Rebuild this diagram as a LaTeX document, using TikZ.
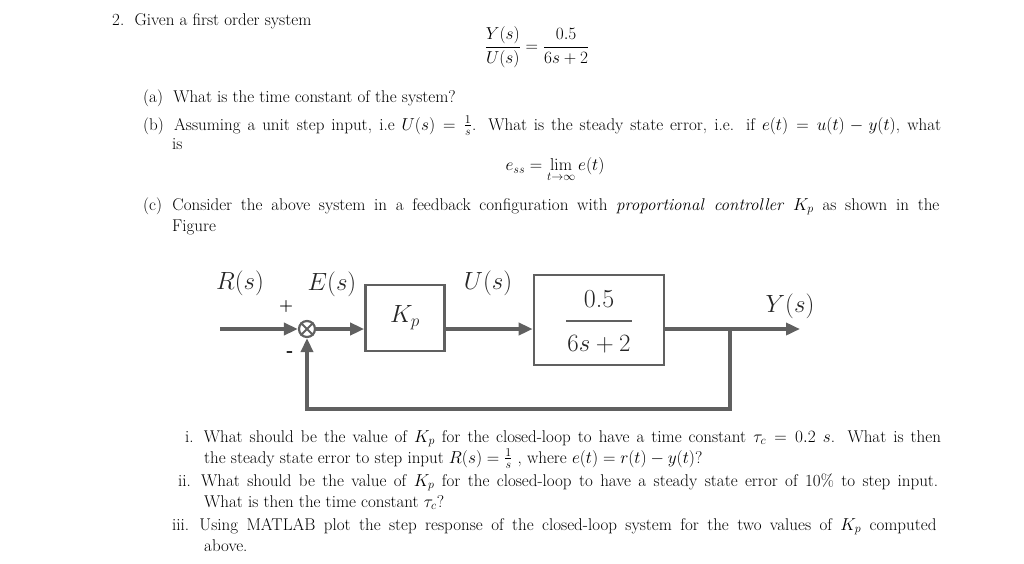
\documentclass[tikz,border=0pt]{standalone}
\usepackage{amsmath}
\usetikzlibrary{arrows.meta}
\tikzset{
  tx/.style={anchor=base west,inner sep=0pt,font=\fontsize{17}{20}\selectfont},
  blk/.style={draw=gray!75!black,line width=2.6pt,inner sep=0pt},
  wire/.style={draw=gray!75!black,line width=3.6pt},
  arr/.style={wire,-{Triangle[length=14pt,width=12pt]}},
  dl/.style={inner sep=0pt,font=\fontsize{26}{26}\selectfont,text=black!85}
}
\begin{document}
\begin{tikzpicture}[x=1pt,y=-1pt]
\useasboundingbox (0,0) rectangle (1024,563);
\node[tx] (n2) at (112,25) {2.\ \ Given a first order system};
\node[inner sep=0pt,font=\fontsize{17}{20}\selectfont] (eq1) at (537,47) {$\dfrac{Y(s)}{U(s)}=\dfrac{0.5}{6s+2}$};
\node[tx] (a) at (143,102) {(a)\ \ What is the time constant of the system?};
\node[tx] (b) at (143,130) {(b)\ \ \hbox to 767pt{Assuming a unit step input, i.e $U(s)=\frac{1}{s}$. What is the steady state error, i.e. if $e(t)=u(t)-y(t)$, what}};
\node[tx] (b2) at (172,149) {is};
\node[inner sep=0pt,font=\fontsize{17}{20}\selectfont] (eq2) at (555,170) {$e_{ss}=\lim\limits_{t\to\infty}e(t)$};
\node[tx] (c) at (143,210) {(c)\ \ \hbox to 767pt{Consider the above system in a feedback configuration with \textit{proportional controller} $K_p$ as shown in the}};
\node[tx] (c2) at (172,231) {Figure};
% diagram
\node[draw=gray!75!black,line width=2.2pt,circle,minimum size=16pt,inner sep=0pt] (sum) at (307,329) {};
\draw[gray!75!black,line width=2pt] (sum.north west)--(sum.south east) (sum.north east)--(sum.south west);
\node[blk,minimum width=79pt,minimum height=66pt] (kp) at (405,318) {};
\node[dl] at (kp) {$K_p$};
\node[blk,minimum width=130pt,minimum height=90pt] (g) at (599,320) {};
\node[dl] (gn) at (599,299) {0.5};
\draw[gray!75!black,line width=1.6pt] (566,321)--(632,321);
\node[dl] (gd) at (599,344) {$6s+2$};
\coordinate (in) at (220,329);
\coordinate (out) at (800,329);
\coordinate (br) at (730,329);
\coordinate (bl) at (730,409);
\coordinate (bs) at (307,409);
\draw[arr] (in)--(sum.west);
\draw[arr] (sum.east)--(kp.west |- sum.east);
\draw[arr] (kp.east |- sum.east)--(g.west |- sum.east);
\draw[wire] (g.east |- sum.east)--(br);
\draw[arr] (br)--(out);
\draw[arr] (br)--(bl)--(bs)--(sum.south);
\node[dl] (R) at (240,283) {$R(s)$};
\node[dl] (E) at (332,284) {$E(s)$};
\node[dl] (U) at (488,283) {$U(s)$};
\node[dl] (Y) at (790,306) {$Y(s)$};
\node[inner sep=0pt,font=\bfseries\fontsize{16}{16}\selectfont] (plus) at (286,306) {+};
\node[inner sep=0pt,font=\bfseries\fontsize{18}{18}\selectfont] (minus) at (290,354) {-};
% items
\node[tx] (i1) at (185,442) {i.\ \ \hbox to 737pt{What should be the value of $K_p$ for the closed-loop to have a time constant $\tau_c=0.2$ $s$. What is then}};
\node[tx] (i2) at (204,463) {the steady state error to step input $R(s)=\frac{1}{s}$ , where $e(t)=r(t)-y(t)$?};
\node[tx] (ii1) at (178,486) {ii.\ \ \hbox to 737pt{What should be the value of $K_p$ for the closed-loop to have a steady state error of 10\% to step input.}};
\node[tx] (ii2) at (204,507) {What is then the time constant $\tau_c$?};
\node[tx] (iii1) at (172,530) {iii.\ \ \hbox to 737pt{Using MATLAB plot the step response of the closed-loop system for the two values of $K_p$ computed}};
\node[tx] (iii2) at (204,551) {above.};
\end{tikzpicture}
\end{document}
